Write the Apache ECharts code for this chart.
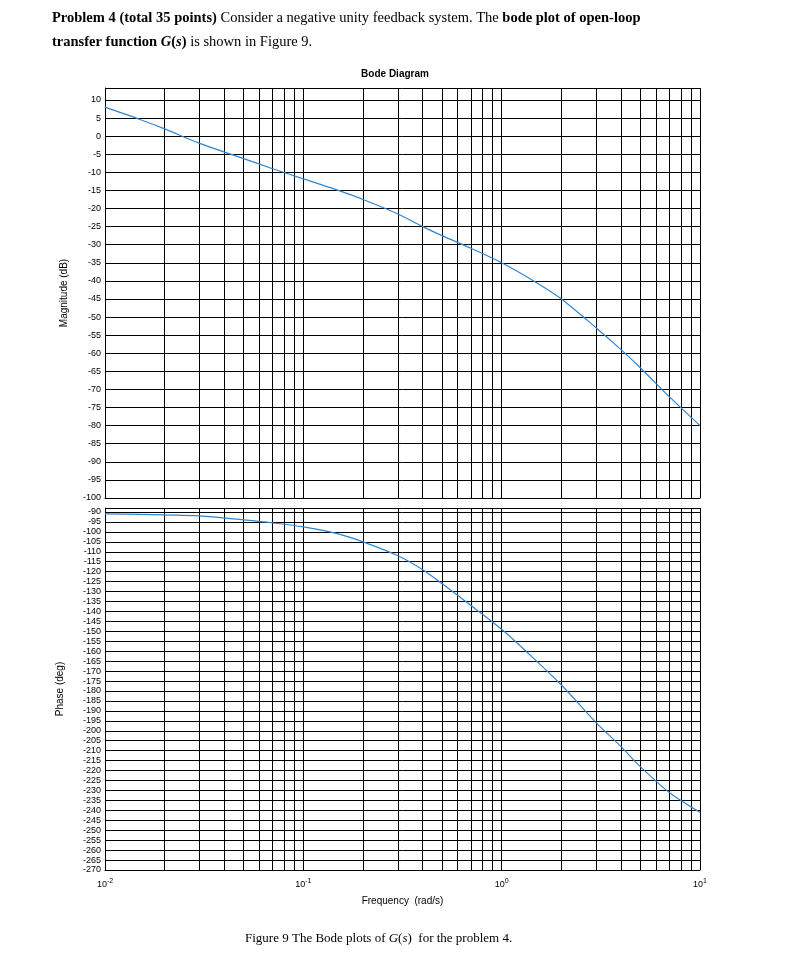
<!DOCTYPE html>
<html><head><meta charset="utf-8">
<script src="https://cdn.jsdelivr.net/npm/echarts@6/dist/echarts.min.js"></script>
<style>html,body{margin:0;padding:0;background:#fff}#c{width:790px;height:965px}</style>
</head><body><div id="c"></div>
<script>
const freq = [0.01,0.015,0.02,0.03,0.05,0.07,0.1,0.15,0.2,0.3,0.4,0.5,0.7,1,1.5,2,3,4,5,7,10];
const magDb = [8,4.6,2,-2,-6.2,-9,-11.8,-15,-17.5,-21.5,-25,-27.5,-31,-35,-40.5,-45,-53,-59,-64,-72,-80];
const phaseDeg = [-91,-91.2,-91.5,-92,-94,-95.5,-97.5,-101,-105,-112,-119,-126,-137,-149,-165,-177,-196,-208,-218,-231,-241];
const minorX = [0.02,0.03,0.04,0.05,0.06,0.07,0.08,0.09,0.2,0.3,0.4,0.5,0.6,0.7,0.8,0.9,2,3,4,5,6,7,8,9];
const expLabels = {0.01:'-2',0.1:'-1',1:'0',10:'1'};

const font = 'Arial, "Liberation Sans", sans-serif';
const serif = '"Liberation Serif", "DejaVu Serif", serif';
const lineC = '#2f86d0';
function xAx(idx, showLabels){
  return {type:'log', gridIndex:idx, min:0.01, max:10, logBase:10,
    axisLine:{show:true,onZero:false,lineStyle:{color:'#000',width:1}},
    axisTick:{show:false},
    splitLine:{show:true,lineStyle:{color:'#000',width:1}},
    axisLabel:{show:showLabels, margin:8, formatter:v=>'{b|10}{s|'+(expLabels[v]||'')+'}',
      rich:{b:{fontSize:9,fontFamily:font,color:'#000'},s:{fontSize:7,fontFamily:font,color:'#000',verticalAlign:'top',padding:[0,0,6,0]}}},
    name: showLabels?'Frequency  (rad/s)':'', nameLocation:'middle', nameGap:26,
    nameTextStyle:{fontSize:10,fontFamily:font,color:'#000'}};
}
function yAx(idx,min,max,name,gap){
  return {type:'value', gridIndex:idx, min:min, max:max, interval:5,
    axisLine:{show:true,lineStyle:{color:'#000'}}, axisTick:{show:false},
    splitLine:{show:true,lineStyle:{color:'#000',width:1}},
    axisLabel:{showMaxLabel:false,fontSize:9,fontFamily:font,color:'#000',margin:4,
      formatter:v=> v>max-0.5?'':String(v)},
    name:name, nameLocation:'middle', nameGap:gap, nameRotate:90,
    nameTextStyle:{fontSize:10,fontFamily:font,color:'#000'}};
}
const mk = {silent:true, symbol:'none', label:{show:false},
  lineStyle:{color:'#000',width:1,type:'solid'}, data:minorX.map(v=>({xAxis:v}))};
const T = {fontFamily:serif, fontSize:14.5, fill:'#000'};
const chart = echarts.init(document.getElementById('c'));
chart.setOption({
  animation:false,
  backgroundColor:'#fff',
  graphic:[
    {type:'text', left:52, top:11, style:Object.assign({}, T, {text:'{b|Problem 4 (total 35 points)} Consider a negative unity feedback system. The {b|bode plot of open-loop}',
      rich:{b:{fontFamily:serif,fontSize:14.5,fontWeight:'bold'}}})},
    {type:'text', left:52, top:35, style:Object.assign({}, T, {text:'{b|transfer function }{bi|G}{b|(}{bi|s}{b|)} is shown in Figure 9.',
      rich:{b:{fontFamily:serif,fontSize:14.5,fontWeight:'bold'},bi:{fontFamily:serif,fontSize:14.5,fontWeight:'bold',fontStyle:'italic'}}})},
    {type:'text', left:'center', top:69, style:{text:'Bode Diagram', fontFamily:font, fontSize:10, fontWeight:'bold', fill:'#000'}},
    {type:'text', left:245, top:932, style:{text:'Figure 9 The Bode plots of {i|G}({i|s})  for the problem 4.',
      fontFamily:serif, fontSize:13, fill:'#000', rich:{i:{fontFamily:serif,fontSize:13,fontStyle:'italic'}}}}
  ],
  grid:[{left:105,right:90,top:88,height:410},{left:105,right:90,top:508,height:362}],
  xAxis:[xAx(0,false), xAx(1,true)],
  yAxis:[yAx(0,-100,13.3,'Magnitude (dB)',36), yAx(1,-270,-88,'Phase (deg)',40)],
  series:[
    {type:'line', xAxisIndex:0, yAxisIndex:0, data:freq.map((f,i)=>[f,magDb[i]]), smooth:0.3, showSymbol:false, z:5,
      lineStyle:{color:lineC,width:1.2}, markLine:Object.assign({z:1},mk)},
    {type:'line', xAxisIndex:1, yAxisIndex:1, data:freq.map((f,i)=>[f,phaseDeg[i]]), smooth:0.3, showSymbol:false, z:5,
      lineStyle:{color:lineC,width:1.2}, markLine:Object.assign({z:1},mk)}
  ]
});
</script></body></html>
